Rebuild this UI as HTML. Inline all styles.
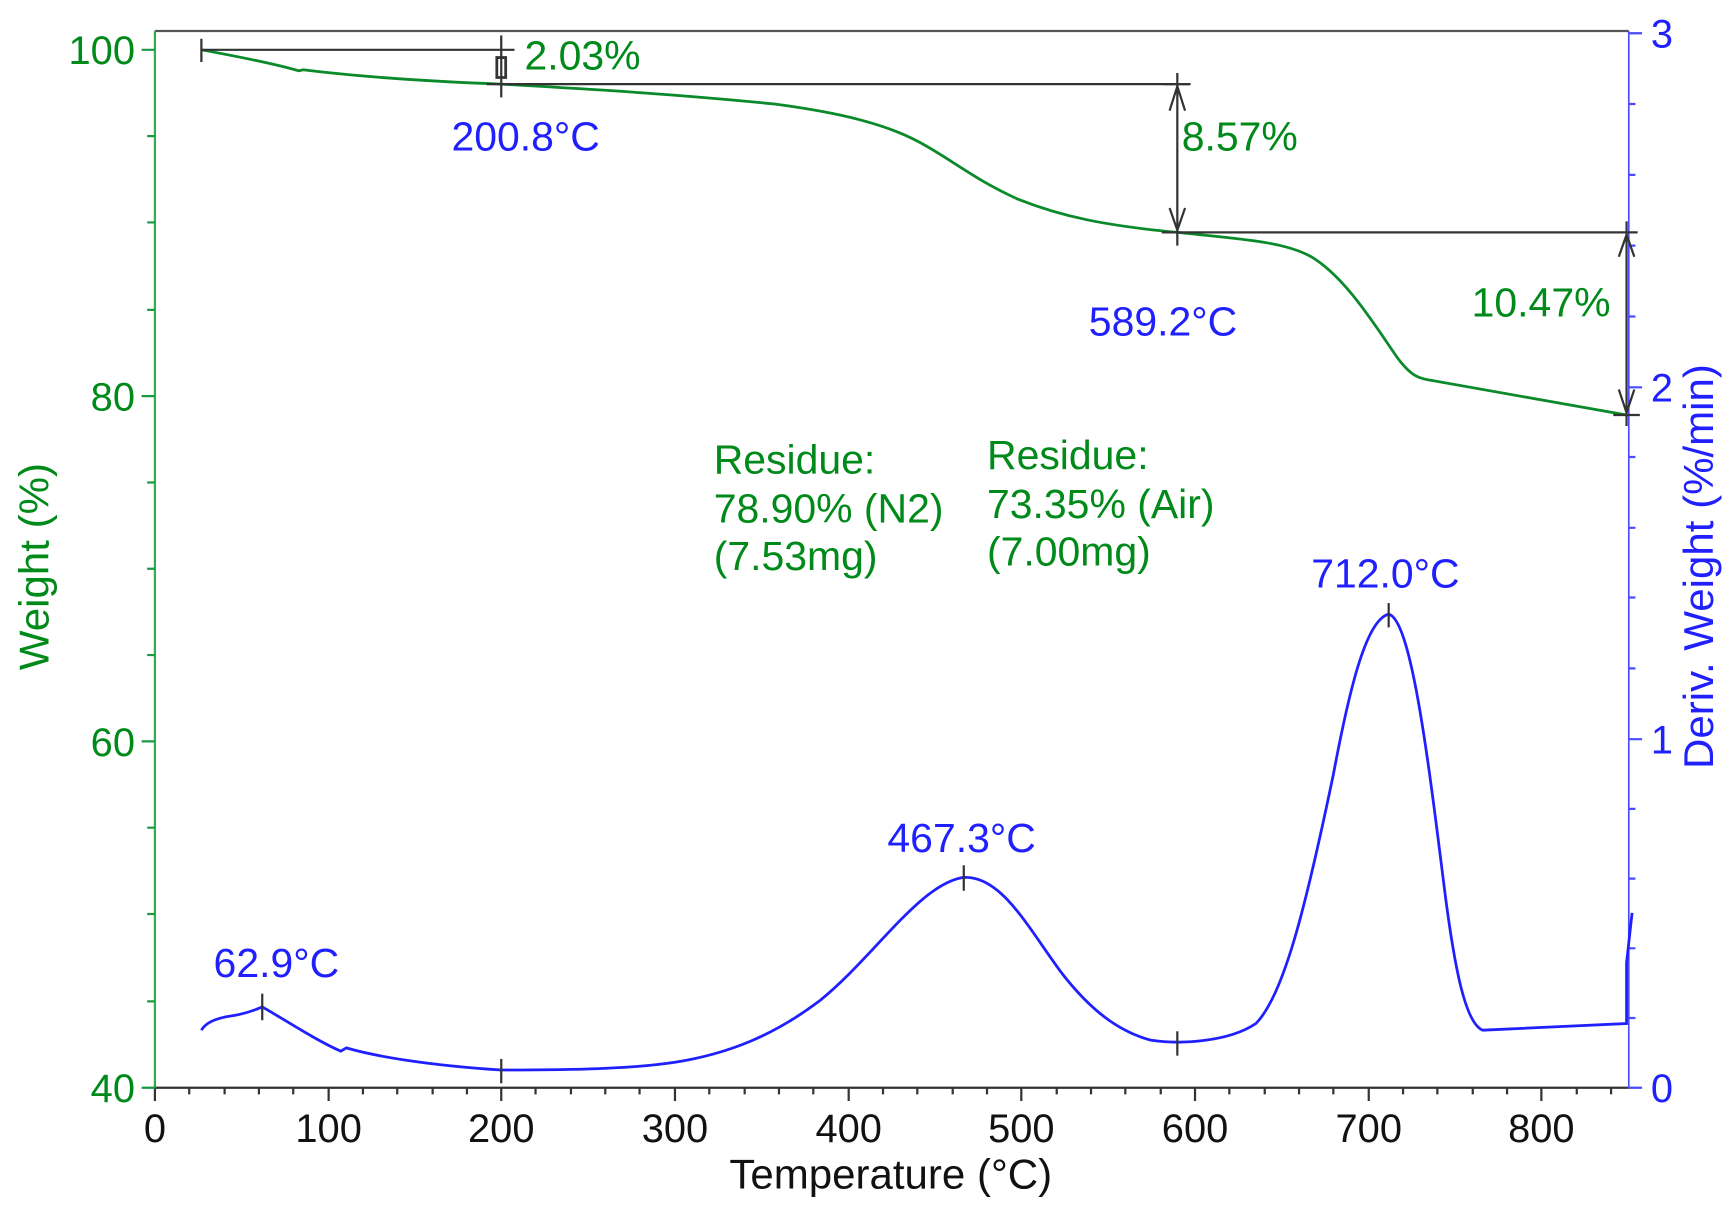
<!DOCTYPE html>
<html><head><meta charset="utf-8"><style>
html,body{margin:0;padding:0;background:#fff;}
svg{display:block;}
text{font-family:"Liberation Sans",Arial,sans-serif;}
</style></head><body>
<svg width="1735" height="1213" viewBox="0 0 1568 1096.2" xmlns="http://www.w3.org/2000/svg">
<rect width="1568" height="1097" fill="#fff"/>
<line x1="140" y1="28" x2="1472" y2="28" stroke="#555" stroke-width="2"/>
<line x1="140" y1="983" x2="1472" y2="983" stroke="#333" stroke-width="2"/>
<line x1="140" y1="28" x2="140" y2="983" stroke="#2fae50" stroke-width="2"/>
<line x1="1472" y1="28" x2="1472" y2="983" stroke="#4a4aff" stroke-width="1.5"/>
<g stroke="#333" stroke-width="2">
<line x1="140" y1="983" x2="140" y2="995"/><line x1="297" y1="983" x2="297" y2="995"/><line x1="453" y1="983" x2="453" y2="995"/><line x1="610" y1="983" x2="610" y2="995"/><line x1="767" y1="983" x2="767" y2="995"/><line x1="923" y1="983" x2="923" y2="995"/><line x1="1080" y1="983" x2="1080" y2="995"/><line x1="1237" y1="983" x2="1237" y2="995"/><line x1="1393" y1="983" x2="1393" y2="995"/>
<path d="M171 983v6M203 983v6M234 983v6M265 983v6M328 983v6M359 983v6M391 983v6M422 983v6M484 983v6M516 983v6M547 983v6M578 983v6M641 983v6M673 983v6M704 983v6M735 983v6M798 983v6M829 983v6M861 983v6M892 983v6M955 983v6M986 983v6M1017 983v6M1049 983v6M1111 983v6M1143 983v6M1174 983v6M1205 983v6M1268 983v6M1299 983v6M1331 983v6M1362 983v6M1425 983v6M1456 983v6"/>
</g>
<g font-size="36" fill="#111" text-anchor="middle">
<text x="140" y="1032">0</text><text x="297" y="1032">100</text><text x="453" y="1032">200</text><text x="610" y="1032">300</text><text x="767" y="1032">400</text><text x="923" y="1032">500</text><text x="1080" y="1032">600</text><text x="1237" y="1032">700</text><text x="1393" y="1032">800</text>
</g>
<text x="805" y="1074" font-size="38" fill="#111" text-anchor="middle">Temperature (°C)</text>
<g stroke="#1a9a40" stroke-width="2">
<path d="M128 45h12M128 358h12M128 670h12M128 983h12"/>
<path d="M133 123h7M133 201h7M133 280h7M133 436h7M133 514h7M133 592h7M133 748h7M133 826h7M133 905h7"/>
</g>
<g font-size="36" fill="#008a1a" text-anchor="end">
<text x="122" y="58">100</text><text x="122" y="371">80</text><text x="122" y="683">60</text><text x="122" y="996">40</text>
</g>
<text transform="translate(44,512) rotate(-90)" font-size="38" fill="#008a1a" text-anchor="middle">Weight (%)</text>
<g stroke="#4a4aff" stroke-width="2">
<path d="M1472 30h12M1472 350h12M1472 668h12M1472 983h12"/>
<path d="M1472 94h6M1472 158h6M1472 222h6M1472 286h6M1472 413h6M1472 477h6M1472 540h6M1472 604h6M1472 731h6M1472 794h6M1472 857h6M1472 920h6"/>
</g>
<g font-size="36" fill="#2020ff">
<text x="1492" y="43">3</text><text x="1492" y="363">2</text><text x="1492" y="681">1</text><text x="1492" y="996">0</text>
</g>
<text transform="translate(1548,512) rotate(-90)" font-size="38" fill="#2020ff" text-anchor="middle">Deriv. Weight (%/min)</text>
<path d="M182 45 C220 52 250 58 270 64 L274 63 C330 70 400 74 453 76 C520 80 600 84 700 94 C760 102 800 112 830 128 C860 144 880 162 920 180 C960 196 1000 204 1064 210 C1120 216 1160 218 1185 232 C1215 250 1240 290 1262 322 C1275 340 1282 342 1295 344 L1470 375" fill="none" stroke="#0a8a2a" stroke-width="2.5"/>
<path d="M182 931 C186 924 195 920 210 918 C222 916 230 913 237 910 C255 920 285 940 308 950 L313 947 C340 955 390 963 453 967 C520 967 570 966 610 960 C660 952 700 935 740 905 C790 865 830 800 870 793 C905 790 930 840 960 880 C985 912 1010 932 1040 940 C1065 944 1110 942 1135 925 C1160 900 1180 820 1205 700 C1220 620 1235 560 1255 555 C1275 560 1290 680 1305 800 C1315 880 1325 925 1340 931 L1470 925 L1470 870 L1475 825" fill="none" stroke="#2020ff" stroke-width="2.5"/>
<g stroke="#333" stroke-width="2" fill="none">
<line x1="182" y1="45" x2="465" y2="45"/>
<line x1="182" y1="35" x2="182" y2="56"/>
<line x1="453" y1="32" x2="453" y2="88"/>
<line x1="440" y1="76" x2="1075" y2="76"/>
<path d="M449 52v18h8v-18z" stroke-width="2.5"/>
<line x1="1064" y1="66" x2="1064" y2="222"/>
<path d="M1057 100L1064 78L1071 100M1057 188L1064 208L1071 188"/>
<line x1="1052" y1="76" x2="1076" y2="76"/>
<line x1="1050" y1="210" x2="1480" y2="210"/>
<line x1="1470" y1="200" x2="1470" y2="385"/>
<path d="M1463 232L1470 212L1477 232M1463 352L1470 373L1477 352"/>
<line x1="1458" y1="375" x2="1482" y2="375"/>
<line x1="237" y1="898" x2="237" y2="922"/>
<line x1="453" y1="957" x2="453" y2="979"/>
<line x1="871" y1="782" x2="871" y2="805"/>
<line x1="1064" y1="932" x2="1064" y2="954"/>
<line x1="1255" y1="545" x2="1255" y2="567"/>
</g>
<g font-size="37" fill="#008a1a">
<text x="474" y="63">2.03%</text>
<text x="1068" y="136">8.57%</text>
<text x="1330" y="286">10.47%</text>
<text x="645" y="428">Residue:</text><text x="645" y="472">78.90% (N2)</text><text x="645" y="515">(7.53mg)</text>
<text x="892" y="424">Residue:</text><text x="892" y="468">73.35% (Air)</text><text x="892" y="511">(7.00mg)</text>
</g>
<g font-size="37" fill="#2020ff">
<text x="408" y="136">200.8°C</text>
<text x="984" y="303">589.2°C</text>
<text x="1185" y="531">712.0°C</text>
<text x="802" y="770">467.3°C</text>
<text x="193" y="883">62.9°C</text>
</g>
</svg>
</body></html>
